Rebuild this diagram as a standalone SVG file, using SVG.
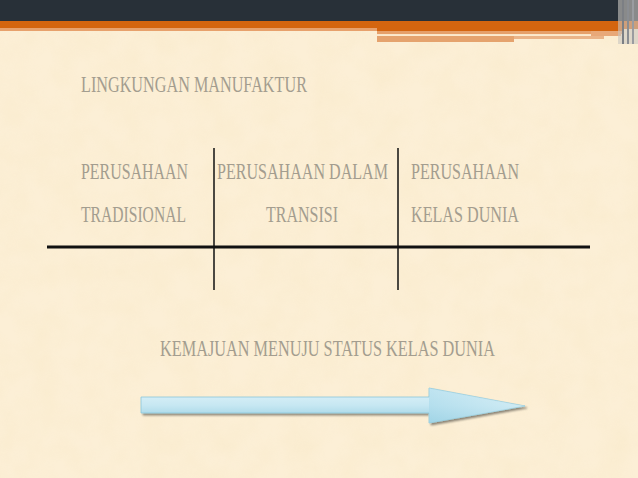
<svg xmlns="http://www.w3.org/2000/svg" width="638" height="478" viewBox="0 0 638 478">
  <style>
    .t { font-family: "Liberation Serif", "Times New Roman", serif; font-size: 23px; fill: #a39d8f; }
    .ln { stroke: #111; fill: none; }
  </style>
  <defs>
    <filter id="paper" x="0" y="0" width="100%" height="100%">
      <feTurbulence type="fractalNoise" baseFrequency="0.035" numOctaves="3" seed="4" result="n"/>
      <feColorMatrix in="n" type="matrix" values="0 0 0 0 0.93  0 0 0 0 0.80  0 0 0 0 0.55  0 0 0 0.9 -0.25"/>
    </filter>
    <linearGradient id="shaft" x1="0" y1="0" x2="0" y2="1">
      <stop offset="0" stop-color="#e3f4fa"/>
      <stop offset="0.5" stop-color="#c6e7f2"/>
      <stop offset="1" stop-color="#94cde0"/>
    </linearGradient>
    <linearGradient id="head" x1="0" y1="0" x2="1" y2="0">
      <stop offset="0" stop-color="#a8d9ea"/>
      <stop offset="1" stop-color="#d6eef6"/>
    </linearGradient>
    <filter id="shadow" x="-5%" y="-20%" width="110%" height="150%">
      <feGaussianBlur in="SourceAlpha" stdDeviation="1.2"/>
      <feOffset dx="1.5" dy="2" result="b"/>
      <feComponentTransfer><feFuncA type="linear" slope="0.45"/></feComponentTransfer>
      <feMerge><feMergeNode/><feMergeNode in="SourceGraphic"/></feMerge>
    </filter>
  </defs>

  <!-- background -->
  <rect x="0" y="0" width="638" height="478" fill="#fcefd6"/>
  <rect x="0" y="0" width="638" height="478" filter="url(#paper)" opacity="0.6"/>

  <!-- header bars -->
  <g id="header">
    <rect x="0" y="0" width="638" height="21" fill="#283038"/>
    <rect x="0" y="21" width="638" height="8" fill="#d4650f"/>
    <rect x="0" y="28" width="377" height="3" fill="#e7a16c"/>
    <rect x="377" y="28" width="245" height="3" fill="#d4650f"/>
    <rect x="377" y="31" width="245" height="3" fill="#e6a06a"/>
    <rect x="377" y="34" width="214" height="1.5" fill="#fbe6c8"/>
    <rect x="377" y="36" width="137" height="6" fill="#e5a36e"/>
    <rect x="514" y="36" width="90" height="3" fill="#eab488"/>
    <rect x="591" y="31" width="30" height="5" fill="#e8a878"/>
    <rect x="618" y="0" width="20" height="44" fill="#c9c6c2" opacity="0.6"/>
    <rect x="622" y="0" width="2" height="44" fill="#7c7f84"/>
    <rect x="627" y="0" width="2" height="44" fill="#8a8d92"/>
    <rect x="632" y="0" width="2" height="44" fill="#9a9ca0"/>
  </g>

  <g id="title" transform="scale(0.75,1)">
    <text class="t" x="108" y="92" font-size="24" textLength="301.3" lengthAdjust="spacingAndGlyphs">LINGKUNGAN MANUFAKTUR</text>
  </g>

  <g id="col-tradisional" transform="scale(0.75,1)">
    <text class="t" x="108" y="179" textLength="142.7" lengthAdjust="spacingAndGlyphs">PERUSAHAAN</text>
    <text class="t" x="108" y="222" textLength="140" lengthAdjust="spacingAndGlyphs">TRADISIONAL</text>
  </g>
  <g id="col-transisi" transform="scale(0.75,1)">
    <text class="t" x="289.3" y="179" textLength="228" lengthAdjust="spacingAndGlyphs">PERUSAHAAN DALAM</text>
    <text class="t" x="354.7" y="222" textLength="96" lengthAdjust="spacingAndGlyphs">TRANSISI</text>
  </g>
  <g id="col-kelas-dunia" transform="scale(0.75,1)">
    <text class="t" x="548" y="179" textLength="144" lengthAdjust="spacingAndGlyphs">PERUSAHAAN</text>
    <text class="t" x="548" y="222" textLength="144" lengthAdjust="spacingAndGlyphs">KELAS DUNIA</text>
  </g>

  <g id="connectors">
    <line class="ln" x1="47" y1="247" x2="590" y2="247" stroke-width="3.2"/>
    <line class="ln" x1="214" y1="148" x2="214" y2="290" stroke-width="1.5"/>
    <line class="ln" x1="398" y1="148" x2="398" y2="290" stroke-width="1.5"/>
  </g>

  <g id="progress-label" transform="scale(0.75,1)">
    <text class="t" x="213.3" y="356" textLength="446.7" lengthAdjust="spacingAndGlyphs">KEMAJUAN MENUJU STATUS KELAS DUNIA</text>
  </g>

  <g id="progress-arrow" filter="url(#shadow)">
    <path d="M141,397 L429,397 L429,388 L525,406 L429,423 L429,413 L141,413 Z" fill="url(#shaft)" stroke="#8cc6da" stroke-width="0.8"/>
    <path d="M429,388 L525,406 L429,423 Z" fill="url(#head)" opacity="0.6"/>
  </g>
</svg>
